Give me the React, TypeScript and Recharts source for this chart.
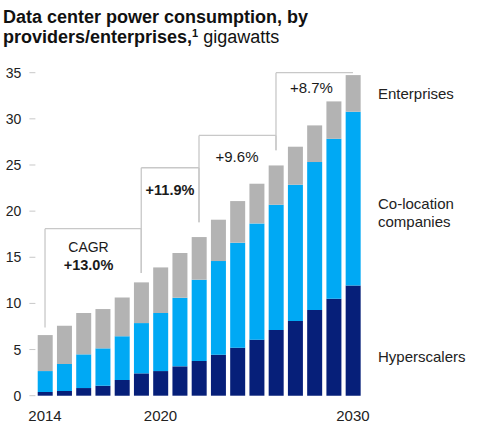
import { BarChart, Bar, XAxis, YAxis, ReferenceLine, ReferenceDot } from "recharts";

const years = ["2014", "2015", "2016", "2017", "2018", "2019", "2020", "2021", "2022", "2023", "2024", "2025", "2026", "2027", "2028", "2029", "2030"];
const hyperscalers = [0.4, 0.51, 0.83, 1.08, 1.7, 2.42, 2.67, 3.18, 3.76, 4.44, 5.2, 6.07, 7.11, 8.09, 9.28, 10.51, 11.95];
const colocation = [2.27, 2.92, 3.65, 4.05, 4.73, 5.45, 6.29, 7.44, 8.81, 10.15, 11.38, 12.6, 13.58, 14.77, 16.04, 17.33, 18.82];
const enterprises = [3.9, 4.15, 4.48, 4.26, 4.22, 4.41, 4.94, 4.84, 4.62, 4.48, 4.51, 4.3, 4.26, 4.12, 3.97, 4.05, 3.97];
const yTicks = [0, 5, 10, 15, 20, 25, 30, 35];
const xLabels = ["2014", "2020", "2030"];

// CAGR brackets: [fromYear, toYear, bottom of left leg, bracket level]
const brackets: [string, string, number, number][] = [
  ["2014", "2019", 7.4, 18.1],
  ["2019", "2022", 13.3, 24.7],
  ["2022", "2026", 18.8, 28.2],
  ["2026", "2030", 26.6, 35],
];
// right legs that drop down to the next bracket start
const legBottoms = [13.3, 18.8, 26.6];

const notes = [
  { x: "2016", y: 16.15, dx: 5, text: "CAGR", bold: false, size: 14 },
  { x: "2016", y: 14.2, dx: 5, text: "+13.0%", bold: true, size: 14.5 },
  { x: "2020", y: 22.34, dx: 9.5, text: "+11.9%", bold: true, size: 14.5 },
  { x: "2024", y: 25.92, dx: -0.5, text: "+9.6%", bold: false, size: 15 },
  { x: "2028", y: 33.4, dx: -3, text: "+8.7%", bold: false, size: 15 },
];

const data = years.map((year, i) => ({
  year,
  hyperscalers: hyperscalers[i],
  colocation: colocation[i],
  enterprises: enterprises[i],
}));

const FONT = '"Liberation Sans", Arial, sans-serif';
const NAVY = "#061f79";
const BLUE = "#00a9f4";
const GREY = "#b3b3b3";
const LINE = "#c8c8c8";

const Note = (props: any) => {
  const { viewBox, text, bold, size, dx } = props;
  const cx = viewBox.x + viewBox.width / 2 + dx;
  const cy = viewBox.y + viewBox.height / 2;
  return (
    <text
      x={cx}
      y={cy}
      textAnchor="middle"
      dominantBaseline="central"
      fontFamily={FONT}
      fontSize={size}
      fontWeight={bold ? 700 : 400}
      fill="#1a1a1a"
    >
      {text}
    </text>
  );
};

export default function App() {
  return (
    <div style={{ position: "absolute", left: 0, top: 0, width: 499, height: 435, background: "#fff", fontFamily: FONT }}>
      <div
        style={{
          position: "absolute",
          left: 3,
          top: 6.7,
          fontSize: 18,
          lineHeight: "20px",
          color: "#111",
          whiteSpace: "nowrap",
        }}
      >
        <b>Data center power consumption, by</b>
        <br />
        <b>providers/enterprises,</b>
        <sup style={{ fontSize: 11, fontWeight: 700, verticalAlign: "6px", lineHeight: 0 }}>1</sup>
        <span> gigawatts</span>
      </div>

      <BarChart
        width={499}
        height={435}
        data={data}
        margin={{ top: 72.7, right: 136.4, left: 0, bottom: 9.3 }}
        barCategoryGap="12%"
        style={{ position: "absolute", left: 0, top: 0 }}
      >
        <XAxis
          dataKey="year"
          height={30}
          axisLine={false}
          tickLine={false}
          interval={0}
          tickSize={5}
          tickMargin={10}
          tickFormatter={(v: string) => (xLabels.includes(v) ? v : "")}
          tick={{ fontSize: 15, fill: "#222", fontFamily: FONT }}
        />
        <YAxis
          width={35.4}
          domain={[0, 35]}
          ticks={yTicks}
          axisLine={false}
          tickSize={6}
          tickMargin={8}
          tickLine={{ stroke: LINE }}
          tick={{ fontSize: 14, fill: "#222", fontFamily: FONT }}
        />
        <Bar dataKey="hyperscalers" stackId="a" fill={NAVY} isAnimationActive={false} />
        <Bar dataKey="colocation" stackId="a" fill={BLUE} isAnimationActive={false} />
        <Bar dataKey="enterprises" stackId="a" fill={GREY} isAnimationActive={false} />

        {brackets.map(([from, to, bottom, level], i) => (
          <ReferenceLine
            key={`l${i}`}
            segment={[{ x: from, y: bottom }, { x: from, y: level }]}
            stroke={LINE}
            strokeWidth={1.3}
            ifOverflow="visible"
          />
        ))}
        {brackets.map(([from, to, , level], i) => (
          <ReferenceLine
            key={`h${i}`}
            segment={[{ x: from, y: level }, { x: to, y: level }]}
            stroke={LINE}
            strokeWidth={1.3}
            ifOverflow="visible"
          />
        ))}
        {legBottoms.map((bottom, i) => (
          <ReferenceLine
            key={`r${i}`}
            segment={[{ x: brackets[i][1], y: brackets[i][3] }, { x: brackets[i][1], y: bottom }]}
            stroke={LINE}
            strokeWidth={1.3}
            ifOverflow="visible"
          />
        ))}

        {notes.map((n, i) => (
          <ReferenceDot
            key={`n${i}`}
            x={n.x}
            y={n.y}
            r={0}
            stroke="none"
            fill="none"
            ifOverflow="visible"
            label={<Note text={n.text} bold={n.bold} size={n.size} dx={n.dx} />}
          />
        ))}
      </BarChart>

      <div style={{ position: "absolute", left: 378, top: 85.3, fontSize: 15, lineHeight: "18px", color: "#222" }}>
        Enterprises
      </div>
      <div style={{ position: "absolute", left: 378, top: 195.3, fontSize: 15, lineHeight: "18px", color: "#222" }}>
        Co-location
        <br />
        companies
      </div>
      <div style={{ position: "absolute", left: 378, top: 347.7, fontSize: 15, lineHeight: "18px", color: "#222" }}>
        Hyperscalers
      </div>
    </div>
  );
}
